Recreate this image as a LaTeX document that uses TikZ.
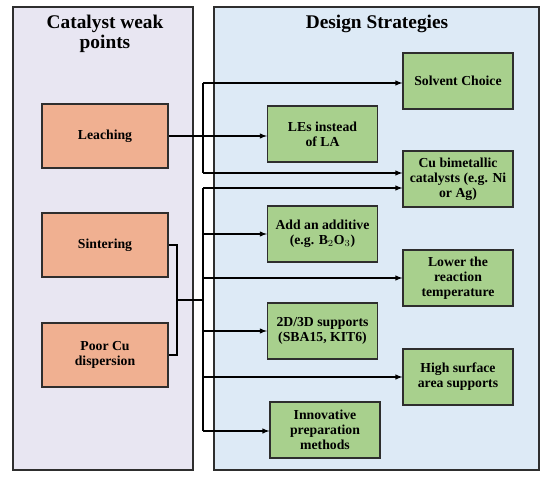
\documentclass[tikz,border=0pt]{standalone}
\usepackage{fontspec}
\setmainfont{Liberation Serif}
\usetikzlibrary{positioning}

\definecolor{weakbg}{HTML}{E8E6F2}
\definecolor{stratbg}{HTML}{DDEAF6}
\definecolor{weakfill}{HTML}{F0B091}
\definecolor{stratfill}{HTML}{A8D08D}
\definecolor{edgegray}{HTML}{2E2E2E}

\tikzset{
    panel/.style={draw=edgegray,line width=1pt},
    weakbox/.style={draw=edgegray,line width=0.9pt,fill=weakfill,minimum width=94.5pt,minimum height=48pt,align=center,font=\fontsize{10.3}{11.4}\selectfont\bfseries},
    stratbox/.style={draw=edgegray,line width=0.9pt,fill=stratfill,minimum width=82.5pt,minimum height=42pt,align=center,font=\fontsize{10.3}{11.4}\selectfont\bfseries},
    link/.style={line width=0.8pt,black},
    >=latex
}

\begin{document}
\begin{tikzpicture}[x=0.75pt,y=-0.75pt]
    \useasboundingbox (0,0) rectangle (550,479);
    % panels
    \draw[panel,fill=weakbg] (13,7) rectangle (193,470);
    \draw[panel,fill=stratbg] (214,7) rectangle (539,470);
    \node[font=\fontsize{14.5}{15.5}\selectfont\bfseries,align=center] (weaktitle) at (105,34) {Catalyst weak\\points};
    \node[font=\fontsize{14.5}{15.5}\selectfont\bfseries] (strattitle) at (377,24) {Design Strategies};

    % weak points
    \node[weakbox] (leach) at (105,136) {Leaching};
    \node[weakbox] (sinter) at (105,245) {Sintering};
    \node[weakbox] (poorcu) at (105,355) {Poor Cu\\dispersion};

    % strategies
    \node[stratbox] (solvent) at (458,81) {Solvent Choice};
    \node[stratbox] (les) at (322.5,134) {LEs instead\\of LA};
    \node[stratbox] (cubi) at (458,179) {Cu bimetallic\\catalysts (e.g. Ni\\or Ag)};
    \node[stratbox] (additive) at (322.5,234) {Add an additive\\(e.g. B$_2$O$_3$)};
    \node[stratbox] (lower) at (458,278) {Lower the\\reaction\\temperature};
    \node[stratbox] (supports) at (322.5,331) {2D/3D supports\\(SBA15, KIT6)};
    \node[stratbox] (highsurf) at (458,377) {High surface\\area supports};
    \node[stratbox] (innov) at (325,430) {Innovative\\preparation\\methods};

    % leaching links
    \coordinate (upper) at (203,83);
    \coordinate (lowerend) at (203,173);
    \draw[link] (upper) -- (lowerend);
    \draw[link,->] (leach.east) -- (leach.east -| les.west);
    \draw[link,->] (upper) -- (upper -| solvent.west);
    \draw[link,->] (lowerend) -- (lowerend -| cubi.west);

    % sintering and dispersion links
    \coordinate (merge) at (177,300);
    \coordinate (hub) at (203,300);
    \coordinate (hubtop) at (203,188);
    \coordinate (hubbot) at (203,431);
    \draw[link] (sinter.east) -| (merge) |- (poorcu.east);
    \draw[link] (merge) -- (hub);
    \draw[link] (hubtop) -- (hubbot);
    \draw[link,->] (hubtop) -- (hubtop -| cubi.west);
    \draw[link,->] (hub |- additive) -- (additive.west);
    \draw[link,->] (hub |- lower) -- (lower.west);
    \draw[link,->] (hub |- supports) -- (supports.west);
    \draw[link,->] (hub |- highsurf) -- (highsurf.west);
    \draw[link,->] (hubbot) -- (hubbot -| innov.west);
\end{tikzpicture}
\end{document}
